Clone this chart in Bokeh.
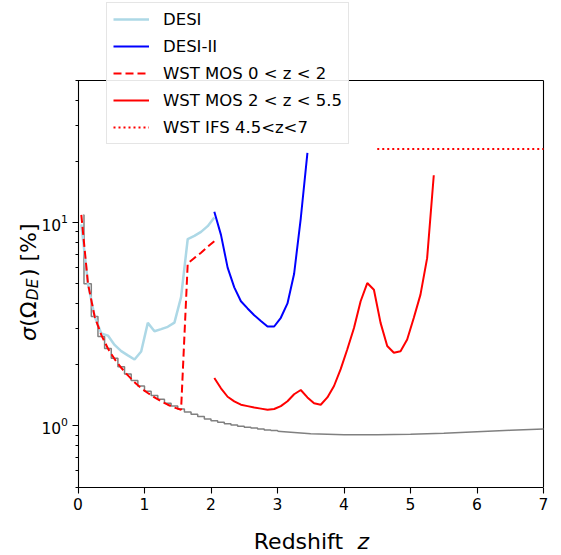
import numpy as np
from bokeh.plotting import figure
from bokeh.models import Range1d, FixedTicker, Legend, LegendItem, Label
from bokeh.embed import file_html
from bokeh.resources import INLINE

# forecast staircase (grey), steps up to z=3 then smooth
grey_step_z = [0.08, 0.09, 0.2, 0.3, 0.4, 0.5, 0.6, 0.7, 0.8, 0.9, 1.0, 1.1, 1.2, 1.3, 1.4, 1.5,
               1.6, 1.7, 1.8, 1.9, 2.0, 2.1, 2.2, 2.3, 2.4, 2.5, 2.6, 2.7, 2.8, 2.9, 3.0]
grey_step_v = [10.9, 5.0, 3.45, 2.75, 2.4, 2.15, 1.95, 1.8, 1.67, 1.57, 1.48, 1.41, 1.35, 1.29, 1.25, 1.21,
               1.17, 1.14, 1.11, 1.08, 1.06, 1.04, 1.025, 1.01, 0.995, 0.985, 0.975, 0.965, 0.955, 0.948, 0.94]
grey_tail_z = [3.0, 3.5, 4.0, 4.5, 5.0, 5.5, 6.0, 6.5, 7.0]
grey_tail_v = [0.94, 0.915, 0.905, 0.905, 0.91, 0.92, 0.935, 0.95, 0.965]

desi_z = [0.05, 0.15, 0.25, 0.35, 0.45, 0.55, 0.65, 0.75, 0.85, 0.95, 1.05,
          1.15, 1.25, 1.35, 1.45, 1.55, 1.65, 1.75, 1.85, 1.95, 2.05]
desi_v = [9.8, 5.0, 3.45, 2.85, 2.78, 2.5, 2.33, 2.22, 2.12, 2.32, 3.21,
          2.92, 2.99, 3.07, 3.22, 4.3, 8.3, 8.6, 9.0, 9.6, 10.6]

desi2_z = [2.05, 2.15, 2.25, 2.35, 2.45, 2.55, 2.65, 2.75, 2.85, 2.95, 3.05, 3.15, 3.25, 3.35, 3.45]
desi2_v = [11.3, 8.7, 6.0, 4.8, 4.1, 3.78, 3.5, 3.28, 3.08, 3.08, 3.4, 4.0, 5.6, 10.5, 22.0]

mos_low_z = [0.05, 0.15, 0.25, 0.35, 0.45, 0.55, 0.65, 0.75, 0.85, 0.95, 1.05,
             1.15, 1.25, 1.35, 1.45, 1.55, 1.65, 1.75, 1.85, 1.95, 2.05]
mos_low_v = [10.9, 5.0, 3.45, 2.8, 2.4, 2.13, 1.93, 1.77, 1.64, 1.53, 1.45,
             1.38, 1.32, 1.27, 1.23, 1.2, 6.3, 6.7, 7.1, 7.6, 8.1]

mos_high_z = [2.05, 2.15, 2.25, 2.35, 2.45, 2.55, 2.65, 2.75, 2.85, 2.95, 3.05, 3.15,
              3.25, 3.35, 3.45, 3.55, 3.65, 3.75, 3.85, 3.95, 4.05, 4.15, 4.25, 4.35,
              4.45, 4.55, 4.65, 4.75, 4.85, 4.95, 5.05, 5.15, 5.25, 5.35]
mos_high_v = [1.72, 1.53, 1.39, 1.32, 1.27, 1.25, 1.23, 1.215, 1.2, 1.21, 1.25, 1.32,
              1.43, 1.5, 1.38, 1.29, 1.27, 1.38, 1.57, 1.9, 2.38, 3.03, 4.1, 5.04,
              4.67, 3.21, 2.47, 2.29, 2.33, 2.66, 3.4, 4.42, 6.68, 17.1]

ifs_z = [4.5, 7.0]
ifs_v = [23.0, 23.0]

x_ticks = [0, 1, 2, 3, 4, 5, 6, 7]
y_major = [1, 10]
y_minor = [0.5, 0.6, 0.7, 0.8, 0.9, 2, 3, 4, 5, 6, 7, 8, 9, 20, 30, 40, 50]

X_MIN, X_MAX = 0, 7
Y_MIN, Y_MAX = 0.5, 50

FONT = "DejaVu Sans"
W, H = 561, 555
# axes box inside the canvas (px); the frame spans the whole canvas so that
# the legend and axis titles, which sit outside the axes box, are not clipped
BOX_L, BOX_R, BOX_T, BOX_B = 77.5, 543.0, 80.0, 486.5

ppx = (BOX_R - BOX_L) / (X_MAX - X_MIN)
ppd = (BOX_B - BOX_T) / (np.log10(Y_MAX) - np.log10(Y_MIN))
x0 = X_MIN - BOX_L / ppx
x1 = X_MAX + (W - BOX_R) / ppx
y1 = 10 ** (np.log10(Y_MAX) + BOX_T / ppd)
y0 = 10 ** (np.log10(Y_MIN) - (H - BOX_B) / ppd)

p = figure(width=W, height=H, y_axis_type="log",
           x_range=Range1d(x0, x1), y_range=Range1d(y0, y1),
           output_backend="svg", toolbar_location=None,
           min_border=0, min_border_left=0, min_border_right=0,
           min_border_top=0, min_border_bottom=0)
p.xgrid.visible = False
p.ygrid.visible = False
p.outline_line_color = None
p.background_fill_color = "white"
p.border_fill_color = "white"

p.xaxis.fixed_location = Y_MIN
p.yaxis.fixed_location = X_MIN
p.xaxis.bounds = (X_MIN, X_MAX)
p.yaxis.bounds = (Y_MIN, Y_MAX)
p.xaxis.ticker = FixedTicker(ticks=x_ticks)
p.yaxis.ticker = FixedTicker(ticks=y_major, minor_ticks=y_minor)
for ax in (p.xaxis[0], p.yaxis[0]):
    ax.axis_line_color = "black"
    ax.axis_line_width = 1.1
    ax.major_tick_line_color = "black"
    ax.major_tick_line_width = 1.1
    ax.major_tick_in = 0
    ax.major_tick_out = 6
    ax.minor_tick_in = 0
    ax.major_label_text_font = FONT
    ax.major_label_text_font_size = "15.5px"
    ax.major_label_text_color = "black"
p.xaxis.minor_tick_out = 0
p.yaxis.minor_tick_out = 3
p.yaxis.minor_tick_line_color = "black"
p.xaxis.major_label_standoff = 5
p.yaxis.major_label_standoff = 4

# top and right spines
p.line([X_MIN, X_MAX], [Y_MAX, Y_MAX], line_color="black", line_width=1.1)
p.line([X_MAX, X_MAX], [Y_MIN, Y_MAX], line_color="black", line_width=1.1)

p.step(grey_step_z, grey_step_v, mode="after", line_color="grey", line_width=1.5)
p.line(grey_tail_z, grey_tail_v, line_color="grey", line_width=1.5)
r_desi = p.line(desi_z, desi_v, line_color="lightblue", line_width=2.5)
r_desi2 = p.line(desi2_z, desi2_v, line_color="blue", line_width=2)
r_low = p.line(mos_low_z, mos_low_v, line_color="red", line_width=2, line_dash="8 4")
r_high = p.line(mos_high_z, mos_high_v, line_color="red", line_width=2)
r_ifs = p.line(ifs_z, ifs_v, line_color="red", line_width=2, line_dash="2 3")

legend = Legend(items=[
    LegendItem(label="DESI", renderers=[r_desi]),
    LegendItem(label="DESI-II", renderers=[r_desi2]),
    LegendItem(label="WST MOS 0 < z < 2", renderers=[r_low]),
    LegendItem(label="WST MOS 2 < z < 5.5", renderers=[r_high]),
    LegendItem(label="WST IFS 4.5<z<7", renderers=[r_ifs]),
], location=(106, 411), glyph_width=36, glyph_height=20, label_height=20,
    spacing=7, padding=6, margin=0, label_standoff=14,
    label_text_font=FONT, label_text_font_size="16.5px", label_text_color="black",
    border_line_color="#cccccc", border_line_width=1,
    background_fill_color="white", background_fill_alpha=0.9)
p.add_layout(legend)

# axis titles drawn as labels (italic pieces, subscript)
def lab(text, x, y, size, style="normal", angle=0):
    p.add_layout(Label(x=x, y=y, x_units="screen", y_units="screen", text=text,
                       text_font=FONT, text_font_size=size, text_font_style=style,
                       text_color="black", text_align="left", text_baseline="alphabetic",
                       angle=angle))

lab("Redshift", 253.3, 14.3, "22px")
lab("z", 357, 14.3, "22px", "italic")

rot = np.pi / 2
lab("σ", 28, 214.4, "22px", "italic", angle=rot)
lab("(Ω", 28, 228.6, "22px", angle=rot)
lab("DE", 32.8, 255.3, "15.4px", "italic", angle=rot)
lab(")", 28, 278.4, "22px", angle=rot)
lab("[%]", 28, 294.0, "22px", angle=rot)

open("out.html", "w").write(file_html(p, INLINE))
